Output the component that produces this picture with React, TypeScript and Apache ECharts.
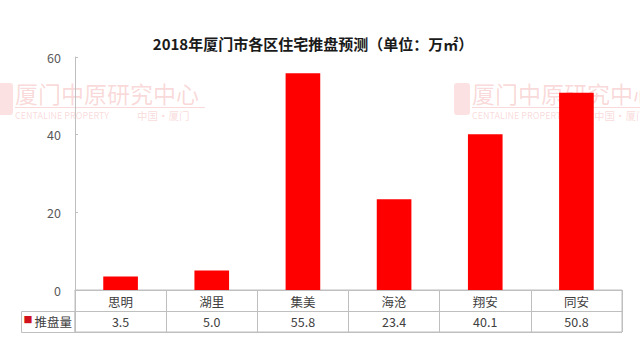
import React, { useEffect, useRef } from "react";
import * as echarts from "echarts";

const titleText = "2018年厦门市各区住宅推盘预测（单位：万㎡）";
const categories = ["思明", "湖里", "集美", "海沧", "翔安", "同安"];
const values = [3.5, 5.0, 55.8, 23.4, 40.1, 50.8];
const seriesName = "推盘量";
const yMin = 0;
const yMax = 60;
const yInterval = 20;
const tableRows = ["cat", "val"];

const FONT = "'Noto Sans CJK SC', 'Noto Sans', sans-serif";
const GRID_LINE = "#bfbfbf";

function watermark(dx: number) {
  const c = "rgba(235,120,120,0.28)";
  return {
    type: "group",
    z: 0,
    silent: true,
    children: [
      { type: "rect", shape: { x: dx - 18, y: 83, width: 16, height: 32, r: 3 }, style: { fill: "rgba(235,120,120,0.22)" } },
      { type: "text", style: { x: dx, y: 81, text: "厦门中原研究中心", fontSize: 23, lineHeight: 23, fontFamily: FONT, fill: c } },
      { type: "line", shape: { x1: dx, y1: 107.5, x2: dx + 190, y2: 107.5 }, style: { stroke: c, lineWidth: 1 } },
      { type: "text", style: { x: dx, y: 111, text: "CENTALINE PROPERTY", fontSize: 9, lineHeight: 9, fontFamily: FONT, fill: c } },
      { type: "text", style: { x: dx + 122, y: 110, text: "中国·厦门", fontSize: 10.5, lineHeight: 11, fontFamily: FONT, fill: c } },
    ],
  };
}

export default function App() {
  const ref = useRef<HTMLDivElement>(null);
  useEffect(() => {
    if (!ref.current) return;
    const chart = echarts.init(ref.current, undefined, { renderer: "svg" });
    chart.setOption({
      animation: false,
      backgroundColor: "#ffffff",
      textStyle: { fontFamily: FONT },
      title: {
        text: titleText,
        left: 308,
        textAlign: "center",
        top: 31,
        textStyle: { fontSize: 15, fontWeight: "bold", color: "#1a1a1a", fontFamily: FONT },
      },
      graphic: [
        watermark(15),
        watermark(472),
        {
          type: "rect",
          z: 1,
          silent: true,
          shape: { x: 21.5, y: 311.5, width: 53.5, height: 21 },
          style: { fill: "none", stroke: GRID_LINE, lineWidth: 1 },
        },
      ],
      grid: [
        { left: 75, right: 18, top: 57, bottom: 59 },
        { left: 75, right: 18, top: 290, height: 42, show: true, borderColor: GRID_LINE, borderWidth: 1 },
      ],
      xAxis: [
        {
          type: "category",
          gridIndex: 0,
          data: categories,
          axisLine: { lineStyle: { color: GRID_LINE } },
          axisTick: { show: false },
          axisLabel: { margin: 5, fontSize: 12.5, color: "#404040", fontFamily: FONT },
        },
        {
          type: "category",
          gridIndex: 1,
          data: values.map((v) => v.toFixed(1)),
          position: "bottom",
          axisLine: { show: false },
          axisTick: { show: false },
          splitLine: { show: true, interval: 0, lineStyle: { color: GRID_LINE } },
          axisLabel: { inside: true, margin: 4, fontSize: 12.5, color: "#404040", fontFamily: FONT },
        },
      ],
      yAxis: [
        {
          type: "value",
          gridIndex: 0,
          min: yMin,
          max: yMax,
          interval: yInterval,
          axisLine: { show: true, lineStyle: { color: GRID_LINE } },
          axisTick: { show: true, inside: true, length: 3, lineStyle: { color: GRID_LINE } },
          splitLine: { show: false },
          axisLabel: { margin: 14, fontSize: 12.5, color: "#595959", fontFamily: FONT },
        },
        {
          type: "category",
          gridIndex: 1,
          data: tableRows,
          inverse: true,
          axisLine: { show: true, lineStyle: { color: GRID_LINE } },
          axisTick: { show: false },
          splitLine: { show: true, interval: 0, lineStyle: { color: GRID_LINE } },
          axisLabel: {
            margin: 3,
            formatter: (v: string) => (v === "val" ? "{sq|■}{t|" + seriesName + "}" : ""),
            rich: {
              sq: { fontSize: 9, color: "#d0101a", padding: [0, 2, 5, 0], fontFamily: FONT },
              t: { fontSize: 12.5, color: "#404040", fontFamily: FONT },
            },
          },
        },
      ],
      series: [
        {
          name: seriesName,
          type: "bar",
          xAxisIndex: 0,
          yAxisIndex: 0,
          data: values,
          barWidth: "38%",
          itemStyle: { color: "#ff0000" },
          z: 3,
        },
      ],
    });
    return () => chart.dispose();
  }, []);
  return <div ref={ref} style={{ width: 640, height: 349, position: "absolute", left: 0, top: 0 }} />;
}
